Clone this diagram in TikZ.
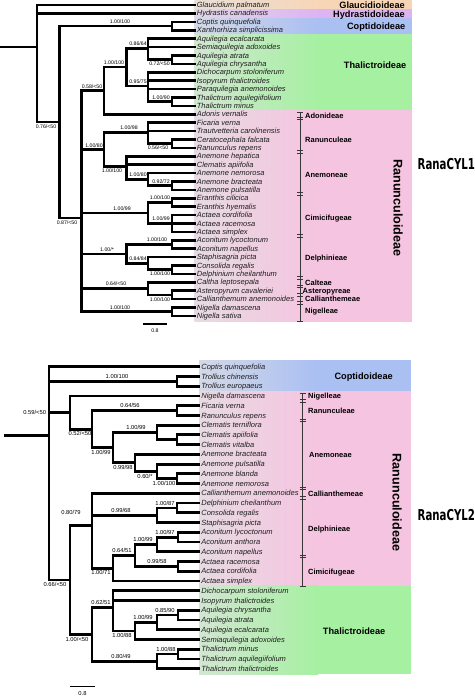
\documentclass[tikz,border=0pt]{standalone}
\usepackage{fontspec}
\usepackage{graphicx}
\usetikzlibrary{calc}
\newfontfamily\libsans{Liberation Sans}
\newfontfamily\djsans{DejaVu Sans}
\definecolor{cglau}{RGB}{247,214,184}
\definecolor{chydr}{RGB}{221,180,242}
\definecolor{ccopt}{RGB}{170,191,242}
\definecolor{cthal}{RGB}{166,240,162}
\definecolor{cranu}{RGB}{245,196,224}
\newcommand\myband[5]{%
  \shade[left color=#3!30!white!92!black, right color=#3] (#4,#1) rectangle (318,#2);
  \fill[#3] (317.6,#1) rectangle (#5,#2);}
\begin{document}
\begin{tikzpicture}[x=1pt,y=-1pt,
  br/.style={line width=2.6pt, line cap=rect, line join=miter},
  brb/.style={line width=2.8pt, line cap=rect, line join=miter},
  tip/.style={anchor=base west, inner sep=0pt, xshift=2.2pt, yshift=-2.6pt, font=\libsans\itshape\fontsize{7.5}{8}\selectfont, text=black!88},
  sup/.style={inner sep=0.3pt, font=\libsans\fontsize{5.2}{6}\selectfont},
  supb/.style={inner sep=0.3pt, font=\libsans\fontsize{5.8}{6.5}\selectfont},
  trb/.style={anchor=base west, inner sep=0pt, yshift=-2.7pt, font=\libsans\bfseries\fontsize{7.5}{8}\selectfont},
  subf/.style={anchor=base east, inner sep=0pt, yshift=-3.3pt, font=\libsans\bfseries\fontsize{9.2}{10}\selectfont},
  vsub/.style={rotate=-90, inner sep=0pt, font=\libsans\bfseries\fontsize{12.6}{13}\selectfont},
  tb/.style={line width=1pt, draw=black!78},
  scb/.style={line width=1.5pt},
  rcyl/.style={anchor=base west, inner sep=0pt, yshift=-5.4pt, font=\djsans\bfseries\fontsize{15}{16}\selectfont}
]
\useasboundingbox (0,0) rectangle (474,696);

% ---------- background bands ----------
\myband{0}{9.2}{cglau}{194.5}{412}
\myband{9.2}{18}{chydr}{194.5}{412}
\myband{18}{34.4}{ccopt}{194.5}{412}
\myband{34.4}{110}{cthal}{194.5}{412}
\myband{110}{321.5}{cranu}{194.5}{412}
\myband{360}{391.05}{ccopt}{199}{411}
\myband{391.05}{585.85}{cranu}{199}{411}
\myband{585.85}{674}{cthal}{199}{411}

% ================= TOP TREE =================
\foreach \i/\nm in {1/Glaucidium palmatum,2/Hydrastis canadensis,3/Coptis quinquefolia,4/Xanthorhiza simplicissima,5/Aquilegia ecalcarata,6/Semiaquilegia adoxoides,7/Aquilegia atrata,8/Aquilegia chrysantha,9/Dichocarpum stoloniferum,10/Isopyrum thalictroides,11/Paraquilegia anemonoides,12/Thalictrum aquilegiifolium,13/Thalictrum minus,14/Adonis vernalis,15/Ficaria verna,16/Trautvetteria carolinensis,17/Ceratocephala falcata,18/Ranunculus repens,19/Anemone hepatica,20/Clematis apiifolia,21/Anemone nemorosa,22/Anemone bracteata,23/Anemone pulsatilla,24/Eranthis cilicica,25/Eranthis hyemalis,26/Actaea cordifolia,27/Actaea racemosa,28/Actaea simplex,29/Aconitum lycoctonum,30/Aconitum napellus,31/Staphisagria picta,32/Consolida regalis,33/Delphinium cheilanthum,34/Caltha leptosepala,35/Asteropyrum cavaleriei,36/Callianthemum anemonoides,37/Nigella damascena,38/Nigella sativa}{
  \coordinate (a\i) at (194.5,{5+8.4*(\i-1)});
  \node[tip] (la\i) at (a\i) {\nm};
}
\coordinate (rt1) at (0,46.8);
\coordinate (A) at (37,46.8);
\coordinate (B) at (59.5,121.9);
\coordinate (Z) at (172,26.0);
\coordinate (C) at (81.5,217.85);
\coordinate (D) at (104,90.65);
\coordinate (E) at (126.5,67.1);
\coordinate (F) at (148,48.4);
\coordinate (G) at (172,59.6);
\coordinate (H) at (148,85.85);
\coordinate (I) at (172,101.6);
\coordinate (J) at (104,149.6);
\coordinate (K) at (148,132.4);
\coordinate (L) at (172,143.6);
\coordinate (M) at (126.5,166.7);
\coordinate (N) at (148,179.3);
\coordinate (O) at (172,185.6);
\coordinate (P) at (148,212.9);
\coordinate (Q) at (172,202.4);
\coordinate (R) at (172,223.4);
\coordinate (S) at (126.5,253.85);
\coordinate (T) at (172,244.4);
\coordinate (U) at (148,263.3);
\coordinate (V) at (172,269.6);
\coordinate (W) at (148,288.5);
\coordinate (X) at (172,294.8);
\coordinate (Y) at (172,311.6);

\draw[br] (rt1) -- (A);
\foreach \p/\c in {A/a1,A/a2,A/B,B/Z,B/C,Z/a3,Z/a4,C/D,C/J,C/P,C/S,C/W,C/Y,D/E,D/a14,E/F,E/H,F/a5,F/a6,F/G,G/a7,G/a8,H/a9,H/a10,H/a11,H/I,I/a12,I/a13,J/K,J/M,K/a15,K/a16,K/L,L/a17,L/a18,M/a19,M/a20,M/N,N/a21,N/O,O/a22,O/a23,P/Q,P/R,Q/a24,Q/a25,R/a26,R/a27,R/a28,S/T,S/U,T/a29,T/a30,U/a31,U/V,V/a32,V/a33,W/a34,W/X,X/a35,X/a36,Y/a37,Y/a38}
  \draw[br] (\p |- \c) -- (\c);
\foreach \p/\f/\l in {A/a1/B,B/Z/C,Z/a3/a4,C/D/Y,D/E/a14,E/F/H,F/a5/G,G/a7/a8,H/a9/I,I/a12/a13,J/K/M,K/a15/L,L/a17/a18,M/a19/N,N/a21/O,O/a22/a23,P/Q/R,Q/a24/a25,R/a26/a28,S/T/U,T/a29/a30,U/a31/V,V/a32/a33,W/a34/X,X/a35/a36,Y/a37/a38}
  \draw[br] (\p |- \f) -- (\p |- \l);

% support values, top
\node[sup,below=2pt] (s1) at (46,0 |- B) {0.76/<50};
\node[sup,above=2pt] (s2) at (120,0 |- Z) {1.00/100};
\node[sup,below=2pt] (s3) at (67,0 |- C) {0.87/<50};
\node[sup,above=2pt] (s4) at (92,0 |- D) {0.58/<50};
\node[sup,above=2pt] (s5) at (114,0 |- E) {1.00/100};
\node[sup,above=2pt] (s6) at (138,0 |- F) {0.86/64};
\node[sup,below=2pt] (s7) at (159.5,0 |- G) {0.72/<50};
\node[sup,above=2pt] (s8) at (138,0 |- H) {0.95/75};
\node[sup,above=2pt] (s9) at (161,0 |- I) {1.00/90};
\node[sup,above=2pt] (s10) at (94,0 |- J) {1.00/80};
\node[sup,above=2pt] (s11) at (129,0 |- K) {1.00/98};
\node[sup,below=2pt] (s12) at (158,0 |- L) {0.56/<50};
\node[sup,below=2pt] (s13) at (112,0 |- M) {1.00/100};
\node[sup,above=2pt] (s14) at (138,0 |- N) {1.00/80};
\node[sup,above=2pt] (s15) at (161,0 |- O) {0.92/72};
\node[sup,above=2pt] (s16) at (122,0 |- P) {1.00/99};
\node[sup,above=2pt] (s17) at (160,0 |- Q) {1.00/100};
\node[sup,above=2pt] (s18) at (161,0 |- R) {1.00/99};
\node[sup,above=2pt] (s19) at (107,0 |- S) {1.00/*};
\node[sup,above=2pt] (s20) at (157,0 |- T) {1.00/100};
\node[sup,above=2pt] (s21) at (138,0 |- U) {0.84/84};
\node[sup,below=2pt] (s22) at (160,0 |- V) {1.00/100};
\node[sup,above=2pt] (s23) at (116,0 |- W) {0.64/<50};
\node[sup,below=2pt] (s24) at (160,0 |- X) {1.00/100};
\node[sup,above=2pt] (s25) at (120,0 |- Y) {1.00/100};

% scale bar top
\coordinate (sc1a) at (143,324);
\coordinate (sc1b) at (167,324);
\draw[scb] (sc1a) -- (sc1b);
\node[sup] (sc1l) at (155,331) {0.8};

% subfamily labels top
\node[subf] (g1) at (405,5) {Glaucidioideae};
\node[subf] (g2) at (405,14.3) {Hydrastidoideae};
\node[subf] (g3) at (405.5,26.5) {Coptidoideae};
\node[subf] (g4) at (406.5,65) {Thalictroideae};
\node[vsub] (g5) at (398,208) {Ranunculoideae};
\node[rcyl] (cyl1) at (417.5,164.5) {\scalebox{0.68}[1]{RanaCYL1}};

% tribe bracket top
\coordinate (tbt) at (300,112);
\coordinate (tbb) at (300,321.5);
\draw[tb] (tbt) -- (tbb);
\draw[tb] (297,112) -- (303,112);
\draw[tb] (297,321.5) -- (303,321.5);
\foreach \y in {118.4,152,194,236,278.2,286.4,294.8,303.2}{
  \draw[tb] (297,{\y-1.3}) -- (303,{\y-1.3});
  \draw[tb] (297,{\y+1.3}) -- (303,{\y+1.3});
}
\node[trb] (r1) at (305,115.3) {Adonideae};
\node[trb] (r2) at (305,139.3) {Ranunculeae};
\node[trb] (r3) at (305,175) {Anemoneae};
\node[trb] (r4) at (305,217.7) {Cimicifugeae};
\node[trb] (r5) at (305,257.7) {Delphinieae};
\node[trb] (r6) at (305,282.3) {Calteae};
\node[trb] (r7) at (302.5,290.7) {Asteropyreae};
\node[trb] (r8) at (305,298.9) {Callianthemeae};
\node[trb] (r9) at (305,311) {Nigelleae};

% ================= BOTTOM TREE =================
\foreach \i/\nm in {1/Coptis quinquefolia,2/Trollius chinensis,3/Trollius europaeus,4/Nigella damascena,5/Ficaria verna,6/Ranunculus repens,7/Clematis terniflora,8/Clematis apiifolia,9/Clematis vitalba,10/Anemone bracteata,11/Anemone pulsatilla,12/Anemone blanda,13/Anemone nemorosa,14/Callianthemum anemonoides,15/Delphinium cheilanthum,16/Consolida regalis,17/Staphisagria picta,18/Aconitum lycoctonum,19/Aconitum anthora,20/Aconitum napellus,21/Actaea racemosa,22/Actaea cordifolia,23/Actaea simplex,24/Dichocarpum stoloniferum,25/Isopyrum thalictroides,26/Aquilegia chrysantha,27/Aquilegia atrata,28/Aquilegia ecalcarata,29/Semiaquilegia adoxoides,30/Thalictrum minus,31/Thalictrum aquilegiifolium,32/Thalictrum thalictroides}{
  \coordinate (b\i) at (199,{366.7+9.74*(\i-1)});
  \node[tip] (lb\i) at (b\i) {\nm};
}
\coordinate (rt2) at (5,435.12);
\coordinate (bR) at (49,435.12);
\coordinate (tr) at (177,381.31);
\coordinate (aa) at (70,412.51);
\coordinate (cc) at (92,429.1);
\coordinate (dd) at (177,410.53);
\coordinate (ee) at (113,447.67);
\coordinate (ff) at (157,432.45);
\coordinate (gg) at (177,439.75);
\coordinate (hh) at (135,462.88);
\coordinate (ii) at (157,471.4);
\coordinate (jj) at (177,478.71);
\coordinate (bb) at (70,579.97);
\coordinate (kk) at (92,525.59);
\coordinate (mm) at (157,515.24);
\coordinate (oo) at (177,507.93);
\coordinate (nn) at (113,568.2);
\coordinate (qq) at (135,555.41);
\coordinate (rr) at (157,544.46);
\coordinate (tt) at (178,537.15);
\coordinate (ss) at (178,566.37);
\coordinate (ll) at (92,634.35);
\coordinate (uu) at (113,607.36);
\coordinate (ww) at (135,630.9);
\coordinate (xx) at (157,622.38);
\coordinate (yy) at (178,615.07);
\coordinate (vv) at (157,661.34);
\coordinate (zz) at (178,654.03);

\draw[brb] (rt2) -- (bR);
\foreach \p/\c in {bR/b1,bR/tr,bR/aa,bR/bb,tr/b2,tr/b3,aa/b4,aa/cc,cc/dd,cc/ee,dd/b5,dd/b6,ee/ff,ee/hh,ff/b7,ff/gg,gg/b8,gg/b9,hh/b10,hh/ii,ii/b11,ii/jj,jj/b12,jj/b13,bb/kk,bb/ll,kk/b14,kk/mm,kk/nn,mm/oo,mm/b17,oo/b15,oo/b16,nn/qq,nn/b23,qq/rr,qq/ss,rr/tt,rr/b20,tt/b18,tt/b19,ss/b21,ss/b22,ll/uu,ll/vv,uu/b24,uu/b25,uu/ww,ww/xx,ww/b29,xx/yy,xx/b28,yy/b26,yy/b27,vv/zz,vv/b32,zz/b30,zz/b31}
  \draw[brb] (\p |- \c) -- (\c);
\foreach \p/\f/\l in {bR/b1/bb,tr/b2/b3,aa/b4/cc,cc/dd/ee,dd/b5/b6,ee/ff/hh,ff/b7/gg,gg/b8/b9,hh/b10/ii,ii/b11/jj,jj/b12/b13,bb/kk/ll,kk/b14/nn,mm/oo/b17,oo/b15/b16,nn/qq/b23,qq/rr/ss,rr/tt/b20,tt/b18/b19,ss/b21/b22,ll/uu/vv,uu/b24/ww,ww/xx/b29,xx/yy/b28,yy/b26/b27,vv/zz/b32,zz/b30/b31}
  \draw[brb] (\p |- \f) -- (\p |- \l);

% support values, bottom
\node[supb,above=2pt] (u1) at (117,0 |- tr) {1.00/100};
\node[supb,anchor=east] (u2) at (46.5,0 |- aa) {0.59/<50};
\node[supb,below=2pt] (u3) at (80,0 |- cc) {0.52/<50};
\node[supb,above=2pt] (u4) at (130,0 |- dd) {0.64/56};
\node[supb,below=2pt] (u5) at (101,0 |- ee) {1.00/99};
\node[supb,above=2pt] (u6) at (136,0 |- ff) {1.00/99};
\node[supb,below=2pt] (u7) at (123,0 |- hh) {0.99/98};
\node[supb,below=2pt] (u8) at (145,0 |- ii) {0.60/*};
\node[supb,below=2pt] (u9) at (164,0 |- jj) {1.00/100};
\node[supb,below=2pt] (u10) at (55,0 |- bb) {0.66/<50};
\node[supb] (u11) at (71,512) {0.80/79};
\node[supb,above=2pt] (u12) at (121,0 |- mm) {0.99/68};
\node[supb,above=2pt] (u13) at (165,0 |- oo) {1.00/87};
\node[supb,below=2pt] (u14) at (101,0 |- nn) {1.00/71};
\node[supb,above=2pt] (u15) at (122,0 |- qq) {0.64/51};
\node[supb,above=2pt] (u16) at (143,0 |- rr) {1.00/99};
\node[supb,above=2pt] (u17) at (165,0 |- tt) {1.00/97};
\node[supb,above=2pt] (u18) at (157,0 |- ss) {0.99/58};
\node[supb,below=2pt] (u19) at (77,0 |- ll) {1.00/<50};
\node[supb,above=2pt] (u20) at (101,0 |- uu) {0.62/51};
\node[supb,below=2pt] (u21) at (122,0 |- ww) {1.00/88};
\node[supb,above=2pt] (u22) at (143,0 |- xx) {1.00/99};
\node[supb,above=2pt] (u23) at (165,0 |- yy) {0.85/90};
\node[supb,above=2pt] (u24) at (121,0 |- vv) {0.80/49};
\node[supb,above=2pt] (u25) at (166,0 |- zz) {1.00/88};

% scale bar bottom
\coordinate (sc2a) at (70,686.7);
\coordinate (sc2b) at (95,686.7);
\draw[scb] (sc2a) -- (sc2b);
\node[supb] (sc2l) at (82.5,693) {0.8};

% subfamily labels bottom
\node[subf] (h1) at (393,376) {Coptidoideae};
\node[subf] (h2) at (385.5,631) {Thalictroideae};
\node[vsub] (h3) at (397,502.5) {Ranunculoideae};
\node[rcyl] (cyl2) at (417.5,515.5) {\scalebox{0.68}[1]{RanaCYL2}};

% tribe bracket bottom
\coordinate (tct) at (302.7,393);
\coordinate (tcb) at (302.7,586.5);
\draw[tb] (tct) -- (tcb);
\draw[tb] (299.7,393) -- (305.7,393);
\draw[tb] (299.7,586.5) -- (305.7,586.5);
\foreach \y in {400.8,420.3,488.4,498.2,556.6}{
  \draw[tb] (299.7,{\y-1.3}) -- (305.7,{\y-1.3});
  \draw[tb] (299.7,{\y+1.3}) -- (305.7,{\y+1.3});
}
\node[trb] (q1) at (308,396) {Nigelleae};
\node[trb] (q2) at (308,410.7) {Ranunculeae};
\node[trb] (q3) at (309,455) {Anemoneae};
\node[trb] (q4) at (308,493.3) {Callianthemeae};
\node[trb] (q5) at (308,528.3) {Delphinieae};
\node[trb] (q6) at (308,571.7) {Cimicifugeae};
\end{tikzpicture}
\end{document}
